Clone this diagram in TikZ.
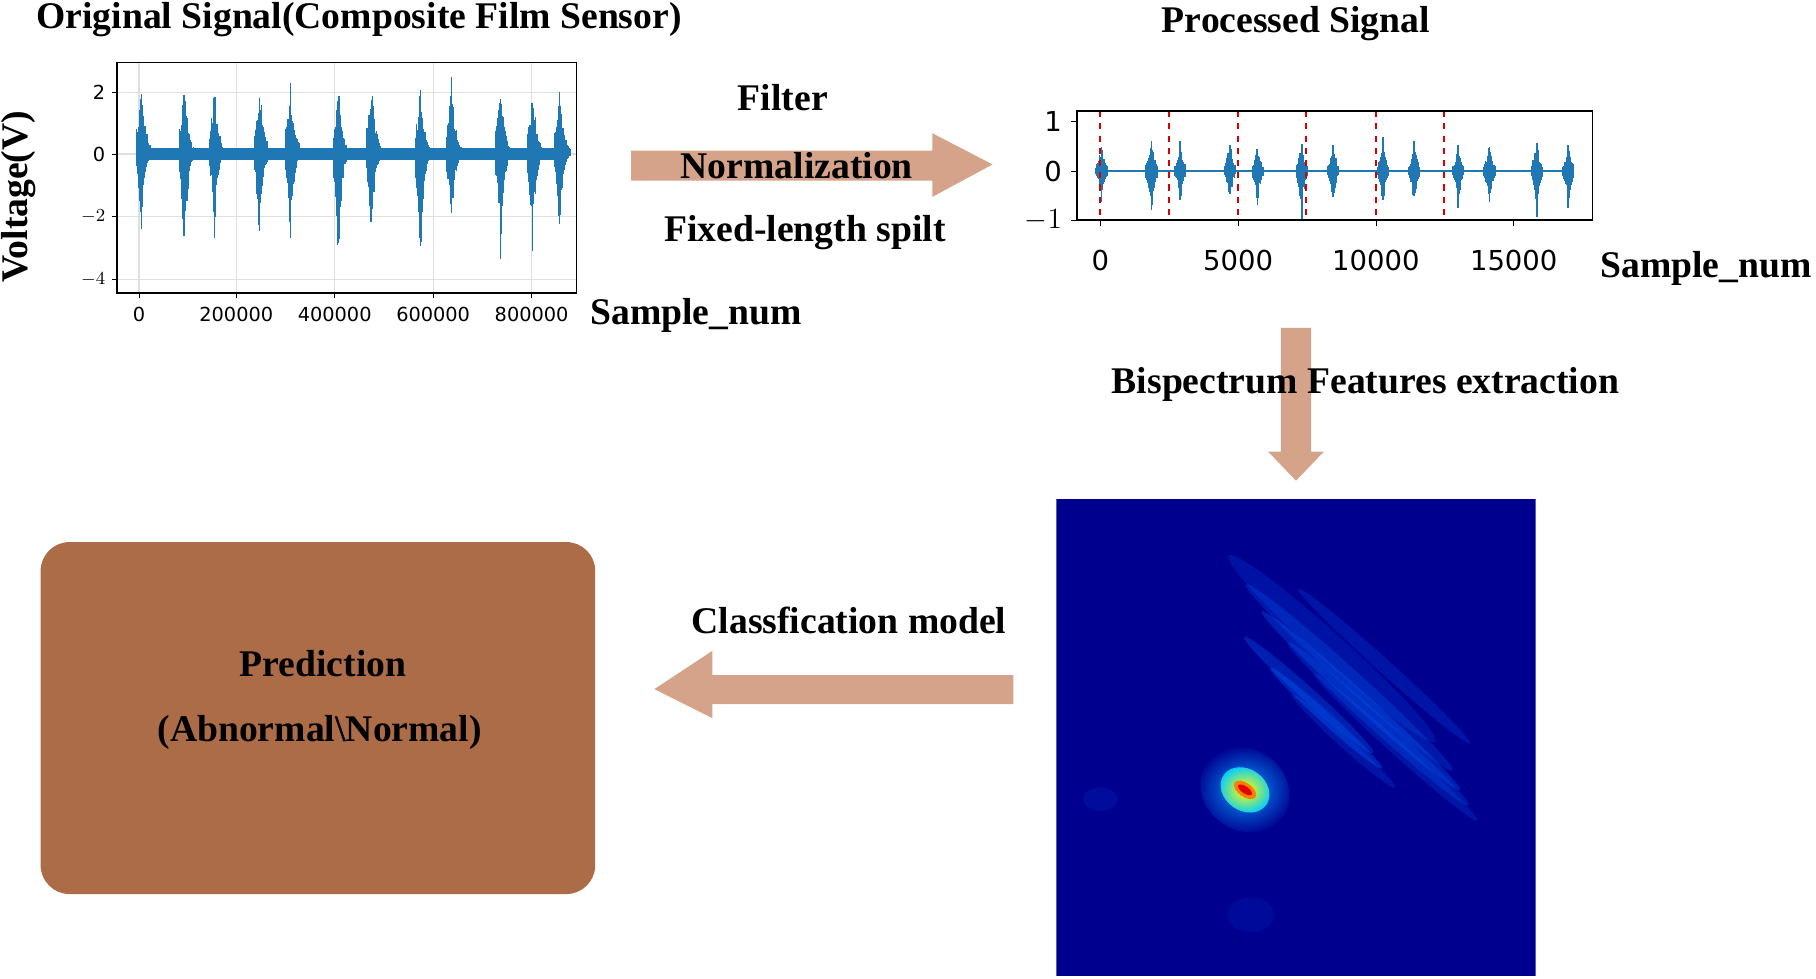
\documentclass[tikz,border=0pt]{standalone}
\usepackage{fontspec}
\setmainfont{Liberation Serif}
\newfontfamily\plotfont{DejaVu Sans}
\definecolor{sig}{HTML}{1F77B4}
\definecolor{arr}{HTML}{D4A389}
\definecolor{boxc}{HTML}{AC6C48}
\definecolor{hmbg}{HTML}{00008F}
\tikzset{
  lbl/.style={font=\bfseries\fontsize{18.5}{20}\selectfont, inner sep=0pt},
  tick1/.style={font=\plotfont\fontsize{9.5}{10}\selectfont, inner sep=1pt},
  tick2/.style={font=\plotfont\fontsize{13.5}{14}\selectfont, inner sep=1pt},
}
\begin{document}
\begin{tikzpicture}[x=0.02cm,y=-0.02cm]
\useasboundingbox (0,0) rectangle (1568,845);
% ---------- Plot 1
\node[lbl] (t1) at (310,17) {Original Signal(Composite Film Sensor)};
\foreach \gx in {120,204,289,374,459} \draw[gray!25, line width=0.6pt] (\gx,54) -- (\gx,253);
\foreach \gy in {80,133,187,241} \draw[gray!25, line width=0.6pt] (101,\gy) -- (498,\gy);
\fill[sig] (120,128) rectangle (482,138);
\pgfmathsetseed{7}
\foreach \bx/\up/\dn in {122/2.6/2.9,159/2.5/4.0,185/2.5/2.8,224/2.6/3.3,251/2.6/3.3,292/2.5/4.1,321/2.6/3.2,363/2.4/4.0,390/2.5/2.9,432/2.5/3.6,460/2.4/3.5,483/2.6/3.3}{
  \foreach \i in {-5,...,12}{
    \pgfmathsetmacro\a{26.75*\up*exp(-abs(\i)/4.5)*(0.6+0.4*rnd)}
    \pgfmathsetmacro\b{26.75*\dn*exp(-abs(\i)/3.2)*(0.6+0.4*rnd)}
    \draw[sig, line width=0.7pt] (\bx+\i*0.8,133-\a) -- (\bx+\i*0.8,133+\b);
  }
}
\draw[black, line width=0.7pt] (101,54) rectangle (498,253);
\foreach \gx/\t in {120/0,204/200000,289/400000,374/600000,459/800000}{
  \draw (\gx,253) -- (\gx,257);
  \node[tick1, anchor=north] at (\gx,263) {\t};
}
\foreach \gy/\t in {80/2,133/0,187/$-2$,241/$-4$}{
  \draw (101,\gy) -- (97,\gy);
  \node[tick1, anchor=east] at (93,\gy) {\t};
}
\node[lbl, rotate=90] (yl) at (16,170) {Voltage(V)};
\node[lbl] (xl1) at (601,272) {Sample\_num};
% ---------- Arrow 1
\coordinate (a1t) at (857,142);
\fill[arr] (545,130) -- (805,130) -- (805,115) -- (a1t) -- (805,170) -- (805,156) -- (545,156) -- cycle;
\node[lbl] (n1) at (688,143) {Normalization};
\node[lbl] (f1) at (676,84) {Filter};
\node[lbl] (s1) at (695,201) {Fixed-length spilt};
% ---------- Plot 2
\node[lbl] (t2) at (1119,20) {Processed Signal};
\draw[sig, line width=0.9pt] (951,148) -- (1354,148);
\pgfmathsetseed{3}
\foreach \bx/\up/\dn in {951/0.62/0.62,994/0.72/1.0,1019/0.65/0.7,1062/0.7/0.65,1086/0.65/0.75,1124/0.72/1.0,1151/0.65/0.75,1194/0.72/0.72,1221/0.62/0.8,1259/0.66/0.75,1286/0.65/0.85,1327/0.72/1.0,1354/0.62/0.85}{
  \foreach \i in {-6,...,6}{
    \pgfmathsetmacro\a{43*\up*exp(-abs(\i)/3.5)*(0.6+0.4*rnd)}
    \pgfmathsetmacro\b{43*\dn*exp(-abs(\i)/3)*(0.6+0.4*rnd)}
    \draw[sig, line width=0.7pt] (\bx+\i*0.8,148-\a) -- (\bx+\i*0.8,148+\b);
  }
}
\foreach \rx in {950,1009,1069,1128,1188,1247}
  \draw[red!85!black, dashed, line width=1pt] (\rx,96) -- (\rx,190);
\draw[black, line width=0.7pt] (930,96) rectangle (1375,190);
\foreach \gx/\t in {950/0,1069/5000,1188/10000,1307/15000}{
  \draw (\gx,190) -- (\gx,195);
  \node[tick2, anchor=north] at (\gx,214) {\t};
}
\foreach \gy/\t in {105/1,148/0,190/$-1$}{
  \draw (930,\gy) -- (925,\gy);
  \node[tick2, anchor=east] at (919,\gy) {\t};
}
\node[lbl] (xl2) at (1473,232) {Sample\_num};
% ---------- Arrow 2 (down)
\coordinate (a2t) at (1119,415);
\fill[arr] (1106,283) -- (1132,283) -- (1132,390) -- (1143,390) -- (a2t) -- (1095,390) -- (1106,390) -- cycle;
\node[lbl] (bs) at (1179,332) {Bispectrum Features extraction};
% ---------- Heatmap
\begin{scope}
\clip (912,431) rectangle (1326,843);
\fill[hmbg] (912,431) rectangle (1326,843);
\foreach \cx/\cy/\rx/\ry/\op in {1150/560/120/12/0.18,1165/585/120/8/0.25,1175/605/115/7/0.3,1190/625/105/7/0.25,1205/645/95/6/0.2,1130/600/75/6/0.3,1145/620/65/5/0.35,1195/575/100/6/0.2,1160/640/60/5/0.2}{
  \fill[blue!60!cyan, opacity=\op, rotate around={-42:(\cx,\cy)}] (\cx,\cy) ellipse ({\rx*0.02cm} and {\ry*0.02cm});
}
\fill[blue!60!cyan, opacity=0.12] (950,690) ellipse (0.3cm and 0.2cm);
\fill[blue!60!cyan, opacity=0.1] (1080,790) ellipse (0.4cm and 0.3cm);
\shade[inner color=cyan!60!blue, outer color=hmbg, rotate around={-35:(1075,682)}] (1075,682) ellipse (0.8cm and 0.7cm);
\shade[inner color=yellow, outer color=cyan!80!blue, rotate around={-35:(1075,682)}] (1075,682) ellipse (0.45cm and 0.36cm);
\fill[orange, rotate around={-35:(1075,682)}] (1075,682) ellipse (0.22cm and 0.12cm);
\fill[red!90!black, rotate around={-35:(1075,682)}] (1075,682) ellipse (0.14cm and 0.06cm);
\end{scope}
\node[inner sep=0pt, minimum width=8.28cm, minimum height=8.24cm] (hm) at (1119,637) {};
% ---------- Arrow 3 (left)
\coordinate (a3t) at (565,595);
\fill[arr] (875,583) -- (615,583) -- (615,562) -- (a3t) -- (615,620) -- (615,608) -- (875,608) -- cycle;
\node[lbl] (cm) at (733,536) {Classfication model};
% ---------- Prediction box
\node[fill=boxc, rounded corners=0.5cm, minimum width=9.58cm, minimum height=6.08cm, inner sep=0pt] (pb) at (274.5,620) {};
\node[lbl] (p1) at (279,573) {Prediction};
\node[lbl] (p2) at (276,632) {(Abnormal\textbackslash Normal)};
\end{tikzpicture}
\end{document}
